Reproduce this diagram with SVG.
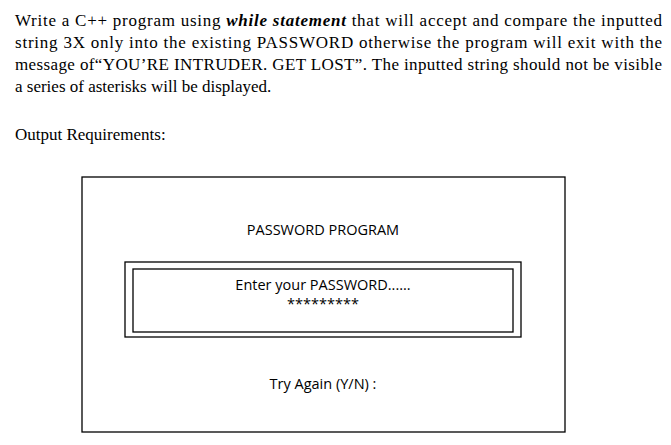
<svg xmlns="http://www.w3.org/2000/svg" width="671" height="445" viewBox="0 0 671 445">
<style>
.p{font-family:"Liberation Serif","Times New Roman",serif;font-size:17px;fill:#000}
.c{font-family:"Open Sans","Liberation Sans",sans-serif;font-size:14.5px;fill:#000;text-anchor:middle}
.b{fill:none;stroke:#000;stroke-width:1.3}
</style>
<rect width="671" height="445" fill="#fff"/>
<g id="question">
<text class="p" x="15" y="26" textLength="647" lengthAdjust="spacing">Write a C++ program using <tspan font-weight="bold" font-style="italic">while statement</tspan> that will accept and compare the inputted</text>
<text class="p" x="15" y="48" textLength="647" lengthAdjust="spacing">string 3X only into the existing PASSWORD otherwise the program will exit with the</text>
<text class="p" x="15" y="70" textLength="647" lengthAdjust="spacing">message of“YOU’RE INTRUDER. GET LOST”. The inputted string should not be visible</text>
<text class="p" x="15" y="92">a series of asterisks will be displayed.</text>
<text class="p" x="15" y="140">Output Requirements:</text>
</g>
<g id="screen">
<rect class="b" x="82" y="177" width="483" height="255"/>
<text class="c" x="323" y="235">PASSWORD PROGRAM</text>
<text class="c" x="323" y="389">Try Again (Y/N) :</text>
</g>
<g id="input-box">
<rect class="b" x="125" y="262" width="396" height="75"/>
<rect class="b" x="133" y="269" width="380" height="63"/>
<text class="c" x="323" y="290">Enter your PASSWORD......</text>
<text class="c" x="323" y="309" font-size="11">*********</text>
</g>
</svg>
